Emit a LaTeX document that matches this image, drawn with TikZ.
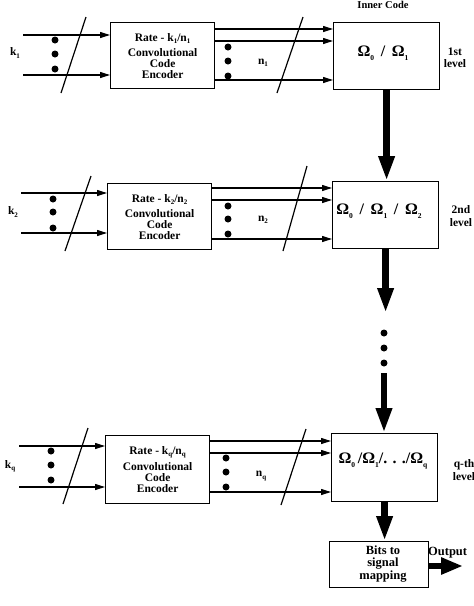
\documentclass[tikz,border=0pt]{standalone}
\usepackage{fontspec}
\setmainfont{Liberation Serif}
\usetikzlibrary{arrows.meta}
\newcommand{\sbs}[1]{\raisebox{-0.4ex}{\fontsize{7}{7}\selectfont #1}}
\newcommand{\omsub}[1]{\raisebox{-0.5ex}{\fontsize{7.5}{7.5}\selectfont #1}}
\begin{document}
\begin{tikzpicture}[x=1pt,y=-1pt,
  font=\bfseries\fontsize{11.5}{11}\selectfont,
  box/.style={draw, line width=1.2pt, inner sep=0pt, anchor=north west},
  enc/.style={box, minimum width=104pt, minimum height=66pt, align=center},
  omg/.style={box, minimum width=106pt, minimum height=67pt},
  sig/.style={line width=1.1pt, -{Triangle[length=10pt,width=6pt]}},
  slashline/.style={line width=1.2pt},
  bdot/.style={circle, fill, inner sep=0pt, minimum size=7pt},
  bigarrow/.style={line width=6.5pt, -{Triangle[length=25pt,width=15pt]}},
  outarrow/.style={line width=6.5pt, -{Triangle[length=22pt,width=16pt]}},
  omtext/.style={font=\bfseries\fontsize{16}{16}\selectfont},
  lbl/.style={inner sep=0pt},
  lvl/.style={inner sep=0pt, align=center, font=\bfseries\fontsize{11.5}{12.5}\selectfont}
]
\useasboundingbox (0,0) rectangle (474,606);

% ---------- Level 1 ----------
\node[enc] (E1) at (110,22) {Rate - k\sbs{1}/n\sbs{1}\\[4pt]Convolutional\\Code\\Encoder};
\node[omg] (O1) at (333,22) {};
\node[omtext,lbl] (T1) at (383,53) {Ω\omsub{0}\, /\, Ω\omsub{1}};
\node[lbl,font=\bfseries\fontsize{10.5}{11}\selectfont] (IC) at (383,5) {Inner Code};
\node[lvl] (L1) at (455,58) {1st\\level};
\coordinate (a1) at (23,35);
\coordinate (b1) at (23,75);
\draw[sig] (a1) -- (a1 -| E1.west);
\draw[sig] (b1) -- (b1 -| E1.west);
\node[bdot] (p11) at (55,40) {};
\node[bdot] (p12) at (55,54) {};
\node[bdot] (p13) at (55,69) {};
\coordinate (s1a) at (86,17); \coordinate (s1b) at (61,93);
\draw[slashline] (s1a) -- (s1b);
\node[lbl] (k1) at (15,53) {k\sbs{1}};
\draw[sig] (E1.east |- 0,29) -- (O1.west |- 0,29);
\draw[sig] (E1.east |- 0,41) -- (O1.west |- 0,41);
\draw[sig] (E1.east |- 0,80) -- (O1.west |- 0,80);
\node[bdot] (q11) at (228,47) {};
\node[bdot] (q12) at (228,61) {};
\node[bdot] (q13) at (228,76) {};
\node[lbl] (n1) at (263,63) {n\sbs{1}};
\coordinate (r1a) at (303,17); \coordinate (r1b) at (277,93);
\draw[slashline] (r1a) -- (r1b);

% ---------- Level 2 ----------
\node[enc] (E2) at (107,183) {Rate - k\sbs{2}/n\sbs{2}\\[4pt]Convolutional\\Code\\Encoder};
\node[omg] (O2) at (332,181) {};
\node[omtext,lbl] (T2) at (379,211) {Ω\omsub{0}\, /\, Ω\omsub{1}\, /\, Ω\omsub{2}};
\node[lvl] (L2) at (461,216) {2nd\\level};
\coordinate (a2) at (21,193);
\coordinate (b2) at (21,233);
\draw[sig] (a2) -- (a2 -| E2.west);
\draw[sig] (b2) -- (b2 -| E2.west);
\node[bdot] (p21) at (53,199) {};
\node[bdot] (p22) at (53,212) {};
\node[bdot] (p23) at (53,228) {};
\coordinate (s2a) at (91,176); \coordinate (s2b) at (65,251);
\draw[slashline] (s2a) -- (s2b);
\node[lbl] (k2) at (13,212) {k\sbs{2}};
\draw[sig] (E2.east |- 0,188) -- (O2.west |- 0,188);
\draw[sig] (E2.east |- 0,200) -- (O2.west |- 0,200);
\draw[sig] (E2.east |- 0,239) -- (O2.west |- 0,239);
\node[bdot] (q21) at (228,206) {};
\node[bdot] (q22) at (228,219) {};
\node[bdot] (q23) at (228,234) {};
\node[lbl] (n2) at (263,220) {n\sbs{2}};
\coordinate (r2a) at (307,166); \coordinate (r2b) at (283,251);
\draw[slashline] (r2a) -- (r2b);

% ---------- Level q ----------
\node[enc, minimum height=68pt] (E3) at (105,435) {Rate - k\sbs{q}/n\sbs{q}\\[4pt]Convolutional\\Code\\Encoder};
\node[omg, minimum height=68pt] (O3) at (331,433) {};
\node[omtext,lbl] (T3) at (383,461) {Ω\omsub{0}\,/Ω\omsub{1}/. . ./Ω\omsub{q}};
\node[lvl] (L3) at (464,470) {q-th\\level};
\coordinate (a3) at (19,446);
\coordinate (b3) at (19,487);
\draw[sig] (a3) -- (a3 -| E3.west);
\draw[sig] (b3) -- (b3 -| E3.west);
\node[bdot] (p31) at (51,451) {};
\node[bdot] (p32) at (51,465) {};
\node[bdot] (p33) at (51,480) {};
\coordinate (s3a) at (88,428); \coordinate (s3b) at (63,504);
\draw[slashline] (s3a) -- (s3b);
\node[lbl] (k3) at (10,466) {k\sbs{q}};
\draw[sig] (E3.east |- 0,441) -- (O3.west |- 0,441);
\draw[sig] (E3.east |- 0,453) -- (O3.west |- 0,453);
\draw[sig] (E3.east |- 0,492) -- (O3.west |- 0,492);
\node[bdot] (q31) at (226,458) {};
\node[bdot] (q32) at (226,472) {};
\node[bdot] (q33) at (226,487) {};
\node[lbl] (n3) at (261,476) {n\sbs{q}};
\coordinate (r3a) at (306,429); \coordinate (r3b) at (281,505);
\draw[slashline] (r3a) -- (r3b);

% ---------- Bits to signal mapping ----------
\node[box, minimum width=99pt, minimum height=46pt] (B) at (329,541) {};
\node[lbl,align=center,font=\bfseries\fontsize{12.5}{12.5}\selectfont] (BT) at (383,564) {Bits to\\signal\\mapping};
\node[lbl,anchor=west,font=\bfseries\fontsize{12.5}{12.5}\selectfont] (OutL) at (428,553) {Output};
\coordinate (outend) at (463,566);
\draw[outarrow] (B.east |- outend) -- (outend);

% ---------- vertical thick arrows ----------
\draw[bigarrow] (O1.south) -- (O1.south |- O2.north);
\coordinate (d1) at (384,313);
\draw[bigarrow] (O2.south) -- (O2.south |- d1);
\node[bdot] (v1) at (384,333) {};
\node[bdot] (v2) at (384,348) {};
\node[bdot] (v3) at (384,363) {};
\coordinate (d2) at (384,373);
\draw[bigarrow] (d2) -- (d2 |- O3.north);
\draw[bigarrow] (O3.south) -- (O3.south |- B.north);
\end{tikzpicture}
\end{document}
